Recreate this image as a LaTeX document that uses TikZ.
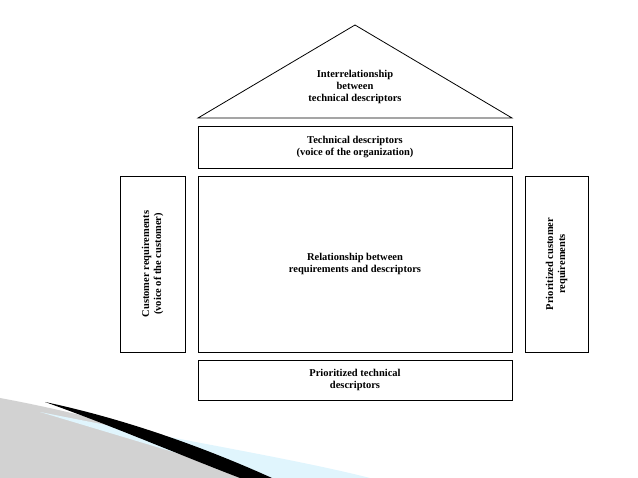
\documentclass[tikz,border=0pt]{standalone}
\usepackage{fontspec}
\setmainfont{Liberation Serif}
\begin{document}
\begin{tikzpicture}[x=1pt,y=-1pt,
  box/.style={draw,line width=0.8pt,align=center,font=\fontsize{10.5}{12}\selectfont\bfseries},
  lbl/.style={align=center,font=\fontsize{10.5}{12}\selectfont\bfseries}]
\useasboundingbox (0,0) rectangle (638,478);
% decoration
\fill[gray!35] (0,398) .. controls (120,420) and (220,455) .. (300,478) -- (0,478) -- cycle;
\fill[cyan!12] (40,412) .. controls (180,440) and (300,460) .. (370,478) -- (260,478) -- cycle;
\fill[black] (45,402) .. controls (130,420) and (210,450) .. (272,478) -- (240,478) .. controls (180,455) and (110,425) .. (45,402) -- cycle;
% roof
\coordinate (apex) at (355,25);
\coordinate (bl) at (198,118);
\coordinate (br) at (512,118);
\draw[line width=0.8pt] (bl) -- (apex) -- (br) -- cycle;
\node[lbl] (roof) at (355,87) {Interrelationship\\between\\technical descriptors};
\node[box,minimum width=314pt,minimum height=42pt] (tech) at (355,147) {Technical descriptors\\(voice of the organization)};
\node[box,minimum width=314pt,minimum height=176pt] (rel) at (355,264) {Relationship between\\requirements and descriptors};
\node[box,minimum width=65pt,minimum height=176pt] (cust) at (152.5,264) {};
\node[lbl,rotate=90] at (cust) {Customer requirements\\(voice of the customer)};
\node[box,minimum width=63pt,minimum height=176pt] (prio) at (556.5,264) {};
\node[lbl,rotate=90] at (prio) {Prioritized customer\\requirements};
\node[box,minimum width=314pt,minimum height=40pt] (ptd) at (355,380) {Prioritized technical\\descriptors};
\end{tikzpicture}
\end{document}
